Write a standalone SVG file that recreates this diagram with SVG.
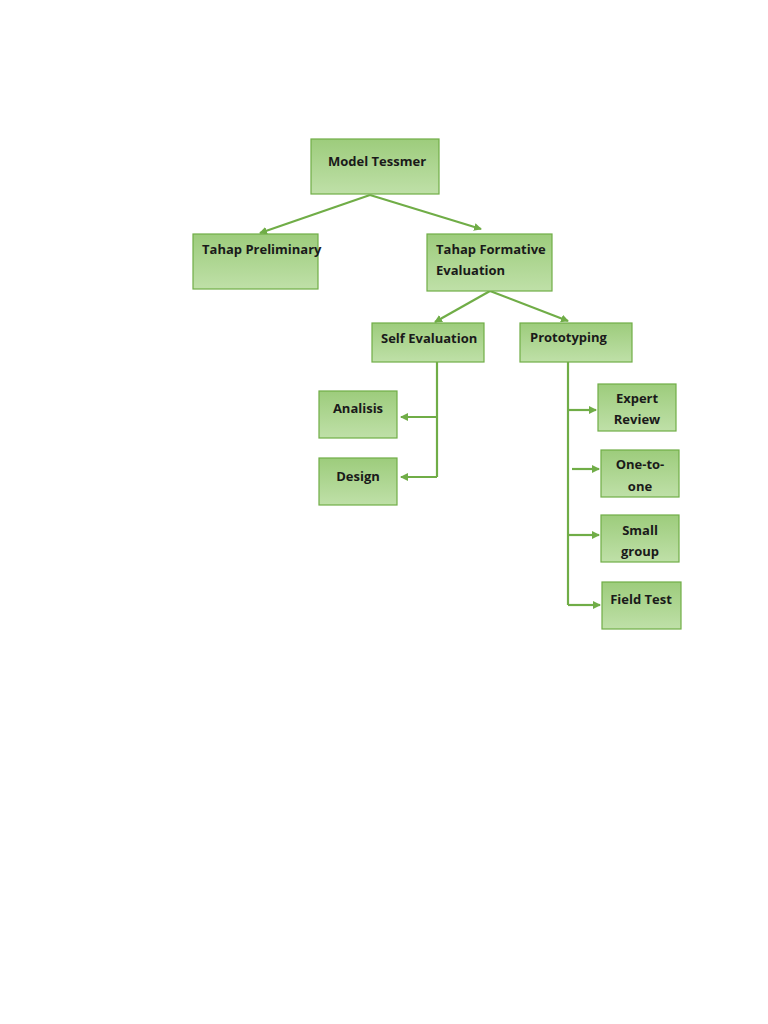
<svg xmlns="http://www.w3.org/2000/svg" width="768" height="1024" viewBox="0 0 768 1024">
<style>
.b{fill:url(#g);stroke:#70ad47;stroke-width:1.2}
.t{font-family:"Open Sans","Liberation Sans",sans-serif;font-weight:bold;font-size:13px;fill:#1a1a1a}
.c{text-anchor:middle}
.l{fill:none;stroke:#70ad47;stroke-width:2.2}
</style>
<defs>
<linearGradient id="g" x1="0" y1="0" x2="0" y2="1"><stop offset="0" stop-color="#9dcc7c"/><stop offset="1" stop-color="#bfe0a8"/></linearGradient>
<marker id="a" markerWidth="8" markerHeight="8" refX="7" refY="4" orient="auto" markerUnits="userSpaceOnUse"><path d="M0,0L8,4L0,8z" fill="#70ad47"/></marker>
</defs>
<rect width="768" height="1024" fill="#fff"/>
<g id="connectors">
<path class="l" d="M370,195L260,233" marker-end="url(#a)"/>
<path class="l" d="M370,195L481,229" marker-end="url(#a)"/>
<path class="l" d="M490,291L435,322" marker-end="url(#a)"/>
<path class="l" d="M490,291L568,321" marker-end="url(#a)"/>
<path class="l" d="M437,362V477"/>
<path class="l" d="M437,417H401" marker-end="url(#a)"/>
<path class="l" d="M437,477H401" marker-end="url(#a)"/>
<path class="l" d="M568,362V605"/>
<path class="l" d="M568,410H596" marker-end="url(#a)"/>
<path class="l" d="M572,469H599" marker-end="url(#a)"/>
<path class="l" d="M568,535H599" marker-end="url(#a)"/>
<path class="l" d="M568,605H600" marker-end="url(#a)"/>
</g>
<g id="model"><rect class="b" x="311" y="139" width="128" height="55"/><text class="t" x="328" y="166">Model Tessmer</text></g>
<g id="preliminary"><rect class="b" x="193" y="234" width="125" height="55"/><text class="t" x="202" y="254">Tahap Preliminary</text></g>
<g id="formative"><rect class="b" x="427" y="234" width="125" height="57"/><text class="t" x="436" y="254">Tahap Formative</text><text class="t" x="436" y="275">Evaluation</text></g>
<g id="self"><rect class="b" x="372" y="323" width="112" height="39"/><text class="t" x="381" y="343">Self Evaluation</text></g>
<g id="proto"><rect class="b" x="520" y="323" width="112" height="39"/><text class="t" x="530" y="342">Prototyping</text></g>
<g id="analisis"><rect class="b" x="319" y="391" width="78" height="47"/><text class="t c" x="358" y="413">Analisis</text></g>
<g id="design"><rect class="b" x="319" y="458" width="78" height="47"/><text class="t c" x="358" y="481">Design</text></g>
<g id="expert"><rect class="b" x="598" y="384" width="78" height="47"/><text class="t c" x="637" y="403">Expert</text><text class="t c" x="637" y="424">Review</text></g>
<g id="one"><rect class="b" x="601" y="450" width="78" height="47"/><text class="t c" x="640" y="469">One-to-</text><text class="t c" x="640" y="491">one</text></g>
<g id="small"><rect class="b" x="601" y="515" width="78" height="47"/><text class="t c" x="640" y="535">Small</text><text class="t c" x="640" y="556">group</text></g>
<g id="field"><rect class="b" x="602" y="582" width="79" height="47"/><text class="t c" x="641" y="604">Field Test</text></g>
</svg>
